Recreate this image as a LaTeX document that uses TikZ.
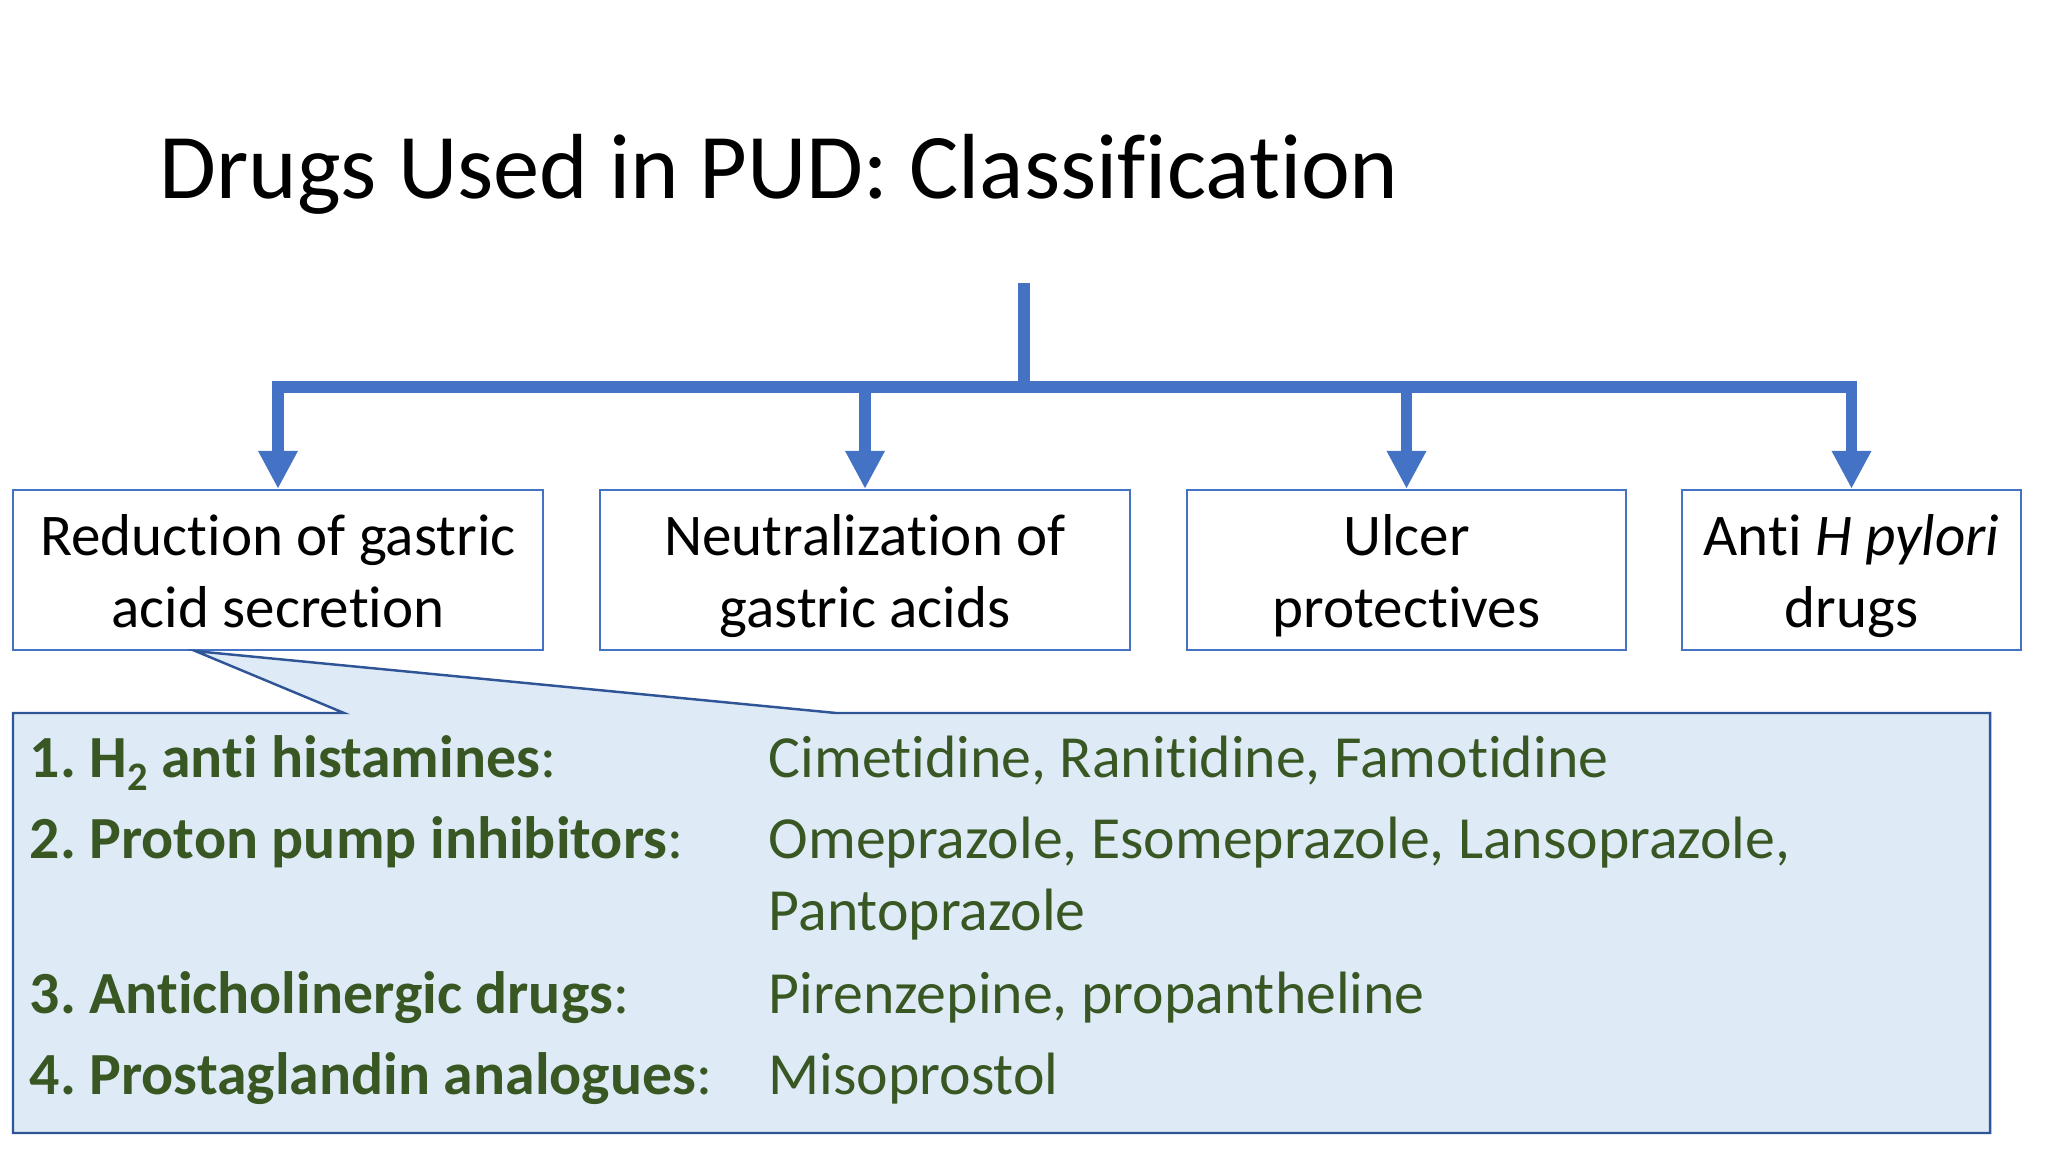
\documentclass[tikz,border=0pt]{standalone}
\usepackage{fontspec}
\setmainfont{Carlito}[Ligatures=NoCommon]
\usepackage{xcolor}
\definecolor{pudblue}{HTML}{4472C4}
\definecolor{calloutfill}{HTML}{DEEBF7}
\definecolor{calloutedge}{HTML}{2F5597}
\definecolor{drugsgreen}{HTML}{385723}
\usetikzlibrary{arrows.meta, positioning, calc}
\frenchspacing

\begin{document}
\begin{tikzpicture}[x=0.01cm,y=-0.01cm,
    classbox/.style={draw=pudblue, line width=0.6pt, minimum height=1.6cm,
                     align=center, inner sep=0pt, font=\fontsize{16.8}{20.5}\selectfont},
    branch/.style={pudblue, line width=3.2pt},
    drugtext/.style={anchor=base west, inner sep=0pt, text=drugsgreen,
                     font=\fontsize{17}{20.5}\selectfont}]
    \useasboundingbox (0,0) rectangle (2048,1152);
    \node[anchor=base west, inner sep=0pt, font=\fontsize{26.3}{32}\selectfont] (title)
        at (159,199) {Drugs Used in PUD: Classification};
    % the four classes
    \foreach \x/\w/\name/\label in {
        278/5.30/red/{Reduction of gastric\\acid secretion},
        865/5.30/neu/{Neutralization of\\gastric acids},
        1406.5/4.39/ulc/{Ulcer\\protectives},
        1851.5/3.39/hpy/{Anti \textit{H pylori}\\drugs}}{
        \node[classbox, minimum width=\w cm] (\name) at (\x,570)
            {\rule{0pt}{16.3pt}\label\rule[-4.2pt]{0pt}{0pt}};
    }
    \coordinate (top) at (1024,283);
    \coordinate (hub) at (1024,387);
    \draw[branch] (top) -- (hub);
    \draw[branch, line cap=rect] (red.north |- hub) -- (hpy.north |- hub);
    \foreach \name in {red,neu,ulc,hpy}{
        \draw[branch, -{Triangle[length=0.38cm, width=0.37cm]}] (\name.north |- hub) -- (\name.north);
    }
    % callout with the drug list
    \coordinate (tip) at ($(red.south west)!0.345!(red.south east)$);
    \draw[fill=calloutfill, draw=calloutedge, line width=0.7pt]
        (13,713) -- (344,713) -- (tip) -- (836,713) -- (1990,713)
        -- (1990,1133) -- (13,1133) -- cycle;
    \foreach \y/\cls/\drugs [count=\i] in {
        777/{1. H\raisebox{-0.22em}{\fontsize{11.5}{11.5}\selectfont 2} anti histamines}/{Cimetidine, Ranitidine, Famotidine},
        858/{2. Proton pump inhibitors}/{Omeprazole, Esomeprazole, Lansoprazole,},
        1013/{3. Anticholinergic drugs}/{Pirenzepine, propantheline},
        1094/{4. Prostaglandin analogues}/{Misoprostol}}{
        \node[drugtext] (cls\i) at (29,\y) {\textbf{\cls}:};
        \node[drugtext] (drug\i) at (768,\y) {\drugs};
    }
    \node[drugtext] (drug2b) at ([yshift=-0.72cm]drug2.base west) {Pantoprazole};
\end{tikzpicture}
\end{document}
